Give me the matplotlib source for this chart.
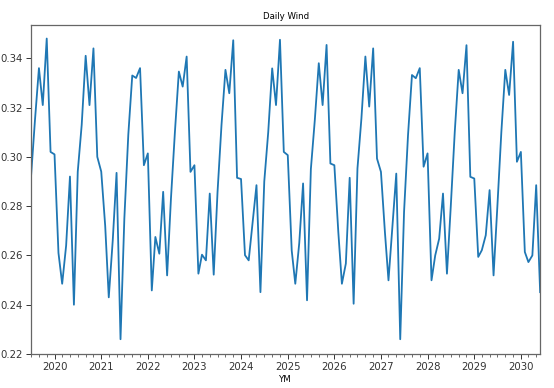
import numpy as np
import pandas as pd
import matplotlib
matplotlib.use("Agg")
import matplotlib.pyplot as plt
import matplotlib.dates as mdates

# monthly values, each list runs July -> June
y2019 = [0.292, 0.315, 0.336, 0.321, 0.348, 0.302, 0.301, 0.261, 0.2485, 0.264, 0.292, 0.240]
y2020 = [0.294, 0.313, 0.341, 0.321, 0.344, 0.300, 0.294, 0.272, 0.243, 0.266, 0.2935, 0.226]
y2021 = [0.275, 0.309, 0.333, 0.332, 0.336, 0.2966, 0.3014, 0.2458, 0.2675, 0.2607, 0.2858, 0.2519]
y2022 = [0.283, 0.310, 0.3346, 0.3285, 0.3407, 0.2939, 0.2966, 0.2526, 0.2603, 0.258, 0.2851, 0.2522]
y2023 = [0.2858, 0.3129, 0.3353, 0.3258, 0.3473, 0.2915, 0.291, 0.2601, 0.258, 0.2736, 0.2885, 0.2451]
y2024 = [0.290, 0.310, 0.3359, 0.321, 0.3475, 0.302, 0.3007, 0.262, 0.2485, 0.265, 0.2892, 0.2418]
y2025 = [0.295, 0.315, 0.338, 0.321, 0.3454, 0.2973, 0.2966, 0.2695, 0.2485, 0.2567, 0.2915, 0.2404]
y2026 = [0.2953, 0.3156, 0.3407, 0.3204, 0.344, 0.2993, 0.2939, 0.2695, 0.2499, 0.272, 0.2932, 0.226]
y2027 = [0.2777, 0.3088, 0.3332, 0.3319, 0.336, 0.296, 0.3014, 0.2499, 0.260, 0.2668, 0.2851, 0.2526]
y2028 = [0.280, 0.310, 0.3353, 0.3258, 0.3453, 0.2919, 0.2912, 0.2594, 0.2621, 0.2682, 0.2865, 0.2519]
y2029 = [0.280, 0.310, 0.3353, 0.3251, 0.3467, 0.298, 0.302, 0.2614, 0.2573, 0.260, 0.2885, 0.2451]

wind = y2019 + y2020 + y2021 + y2022 + y2023 + y2024 + y2025 + y2026 + y2027 + y2028 + y2029
ym = pd.date_range("2019-07-01", periods=len(wind), freq="MS")

fig = plt.figure(figsize=(5.54, 3.88), dpi=100)
ax = fig.add_axes([0.056, 0.0876, 0.919, 0.848])
ax.plot(ym, wind, color="#1f77b4", linewidth=1.3)

ax.set_xlim(ym[0], ym[-1])
ax.set_ylim(0.22, 0.3535)
ax.set_yticks([0.22, 0.24, 0.26, 0.28, 0.30, 0.32, 0.34])
ax.yaxis.set_major_formatter(matplotlib.ticker.FormatStrFormatter("%.2f"))
ax.xaxis.set_major_locator(mdates.YearLocator())
ax.xaxis.set_major_formatter(mdates.DateFormatter("%Y"))
ax.xaxis.set_minor_locator(mdates.MonthLocator(bymonth=[3, 5, 7, 9, 11]))
ax.tick_params(axis="both", which="major", labelsize=7.3, length=3.5, width=0.7, pad=2.5, colors="#333333")
ax.tick_params(axis="x", which="minor", length=2, width=0.6, colors="#555555")
for s in ax.spines.values():
    s.set_color("#666666")
    s.set_linewidth(0.9)

ax.set_title("Daily Wind", fontsize=6.2, pad=4)
ax.set_xlabel("YM", fontsize=6.2, labelpad=2)

fig.savefig("out.png", dpi=100)
